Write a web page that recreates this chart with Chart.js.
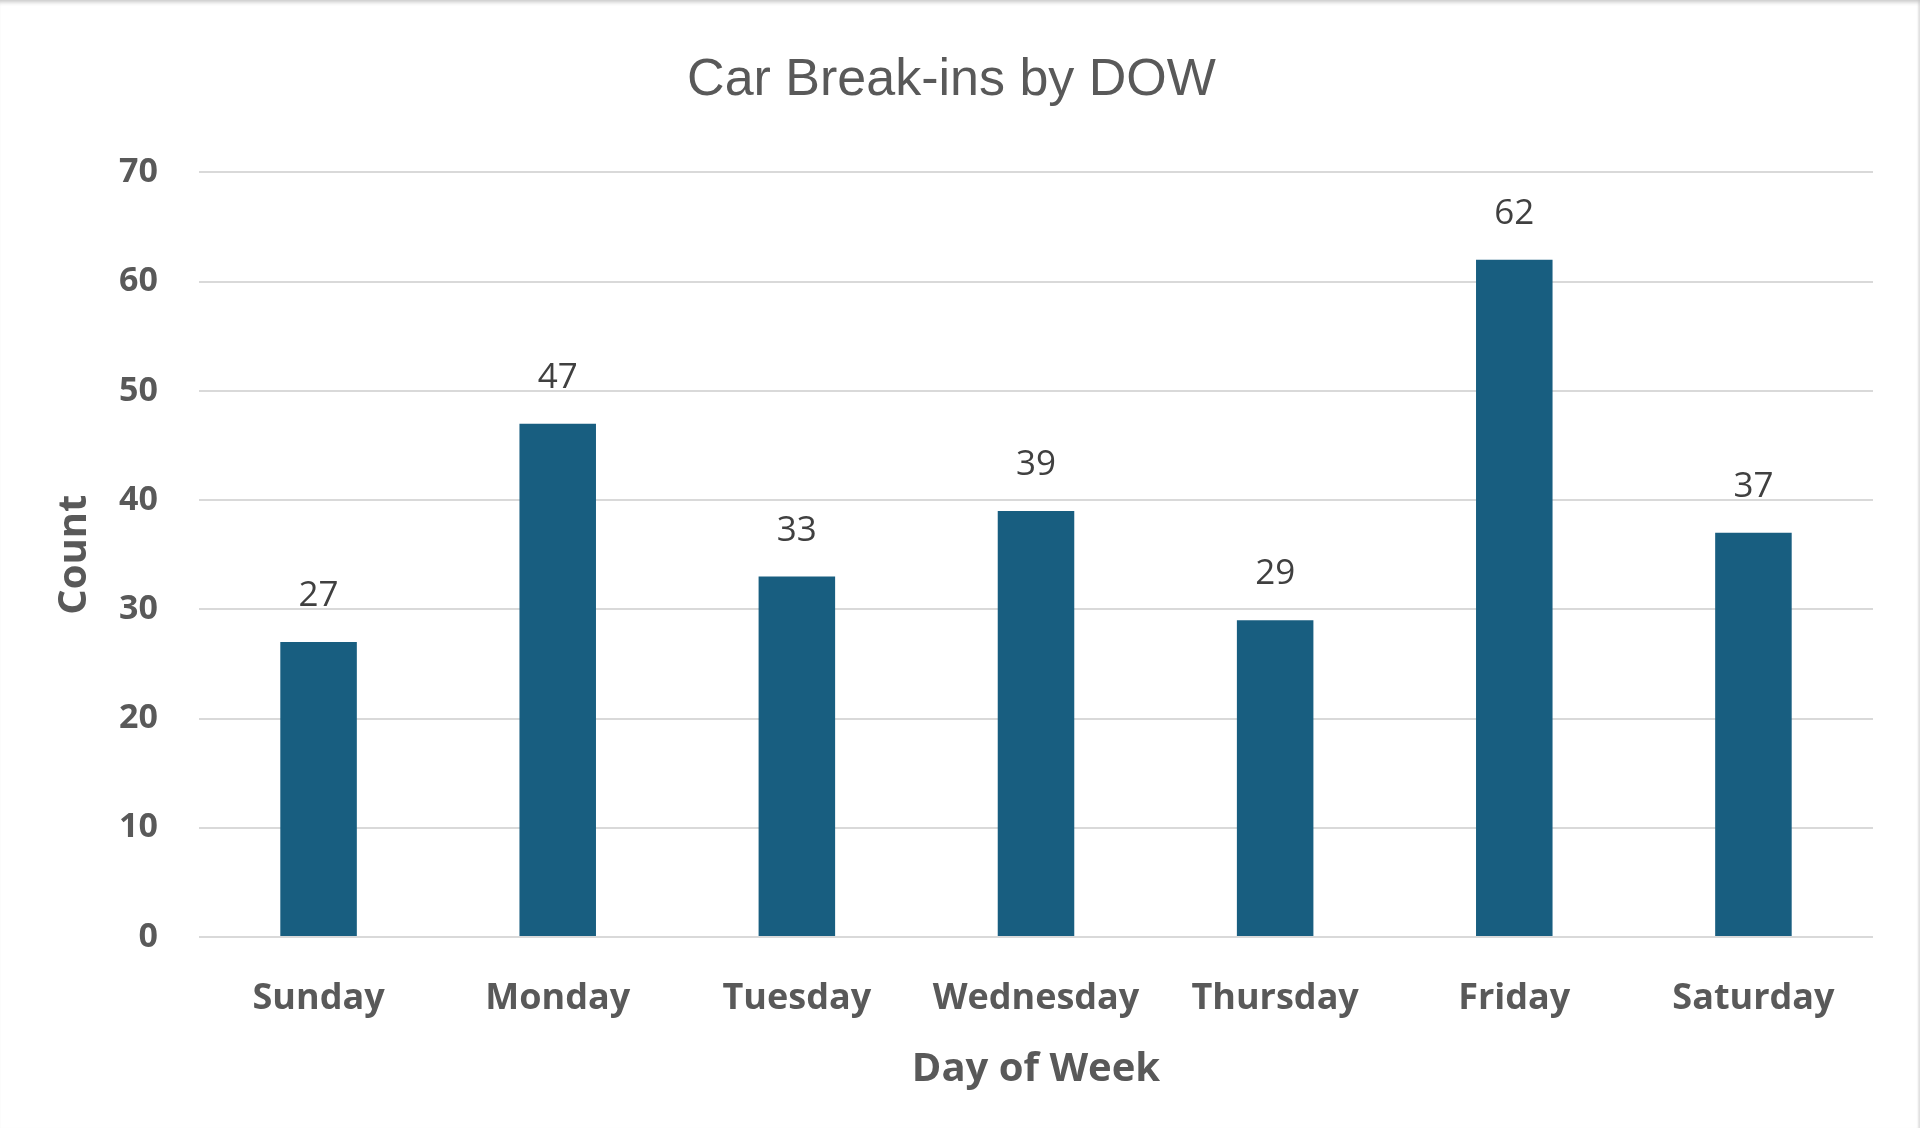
<!DOCTYPE html>
<html>
<head>
  <meta charset="utf-8">
  <title>Car Break-ins by DOW</title>
  <script src="https://cdn.jsdelivr.net/npm/chart.js@4.4.0/dist/chart.umd.min.js"></script>
  <style>
    html, body {
      margin: 0;
      padding: 0;
      background: #fff;
      overflow: hidden;
    }
    .wrap {
      position: relative;
      width: 1920px;
      height: 1128px;
      box-shadow: inset 0 5px 4px -3px #c4c4c4, inset -3px 0 2px -1px #e2e2e2;
    }
    canvas {
      display: block;
    }
  </style>
</head>
<body>
  <div class="wrap">
    <canvas id="chart" width="1920" height="1128"></canvas>
  </div>

  <script>
    // data
    const days = ['Sunday', 'Monday', 'Tuesday', 'Wednesday', 'Thursday', 'Friday', 'Saturday'];
    const counts = [27, 47, 33, 39, 29, 62, 37];
    const yTicks = [0, 10, 20, 30, 40, 50, 60, 70];

    const barColor = '#185e80';
    const textGrey = '#595959';
    const gridGrey = '#d9d9d9';
    const mainFont = "'Open Sans', 'Noto Sans', sans-serif";

    // value labels over each bar
    const barLabels = {
      id: 'barLabels',
      afterDatasetsDraw(chart) {
        const ctx = chart.ctx;
        const meta = chart.getDatasetMeta(0);
        ctx.save();
        ctx.font = '35px ' + mainFont;
        ctx.fillStyle = '#404040';
        ctx.textAlign = 'center';
        ctx.textBaseline = 'alphabetic';
        meta.data.forEach((bar, i) => {
          ctx.fillText(String(counts[i]), bar.x, bar.y - 36);
        });
        ctx.restore();
      }
    };

    const ctx = document.getElementById('chart').getContext('2d');
    new Chart(ctx, {
      type: 'bar',
      data: {
        labels: days,
        datasets: [{
          label: 'Count',
          data: counts,
          backgroundColor: barColor,
          borderWidth: 0,
          categoryPercentage: 1,
          barPercentage: 0.32
        }]
      },
      options: {
        responsive: false,
        animation: false,
        devicePixelRatio: 1,
        layout: {
          padding: { left: 30, right: 47, top: 2, bottom: 20 }
        },
        plugins: {
          legend: { display: false },
          tooltip: { enabled: false },
          title: {
            display: true,
            text: 'Car Break-ins by DOW',
            color: textGrey,
            font: { family: "'Liberation Sans Narrow', 'Liberation Sans', sans-serif", size: 52, weight: 'normal', lineHeight: 1.2 },
            padding: { top: 47, bottom: 61 }
          }
        },
        scales: {
          x: {
            grid: { display: false, drawTicks: false },
            border: { display: false },
            ticks: {
              color: textGrey,
              padding: 40,
              font: { family: mainFont, size: 36, weight: 'bold' }
            },
            title: {
              display: true,
              text: 'Day of Week',
              color: textGrey,
              font: { family: mainFont, size: 40, weight: 'bold', lineHeight: 1.2 },
              padding: { top: 0, bottom: 14 }
            },
            afterFit(scale) {
              scale.height = 1128 - 20 - 937;
            }
          },
          y: {
            min: 0,
            max: 70,
            afterBuildTicks(scale) {
              scale.ticks = yTicks.map(v => ({ value: v }));
            },
            grid: { color: gridGrey, lineWidth: 2, drawTicks: false },
            border: { display: false },
            ticks: {
              color: textGrey,
              padding: 41,
              font: { family: mainFont, size: 34, weight: 'bold' }
            },
            title: {
              display: true,
              text: 'Count',
              color: textGrey,
              font: { family: mainFont, size: 40, weight: 'bold', lineHeight: 1.2 },
              padding: { top: 21, bottom: 0 }
            },
            afterFit(scale) {
              scale.width = 199 - 30;
            }
          }
        }
      },
      plugins: [barLabels]
    });
  </script>
</body>
</html>
